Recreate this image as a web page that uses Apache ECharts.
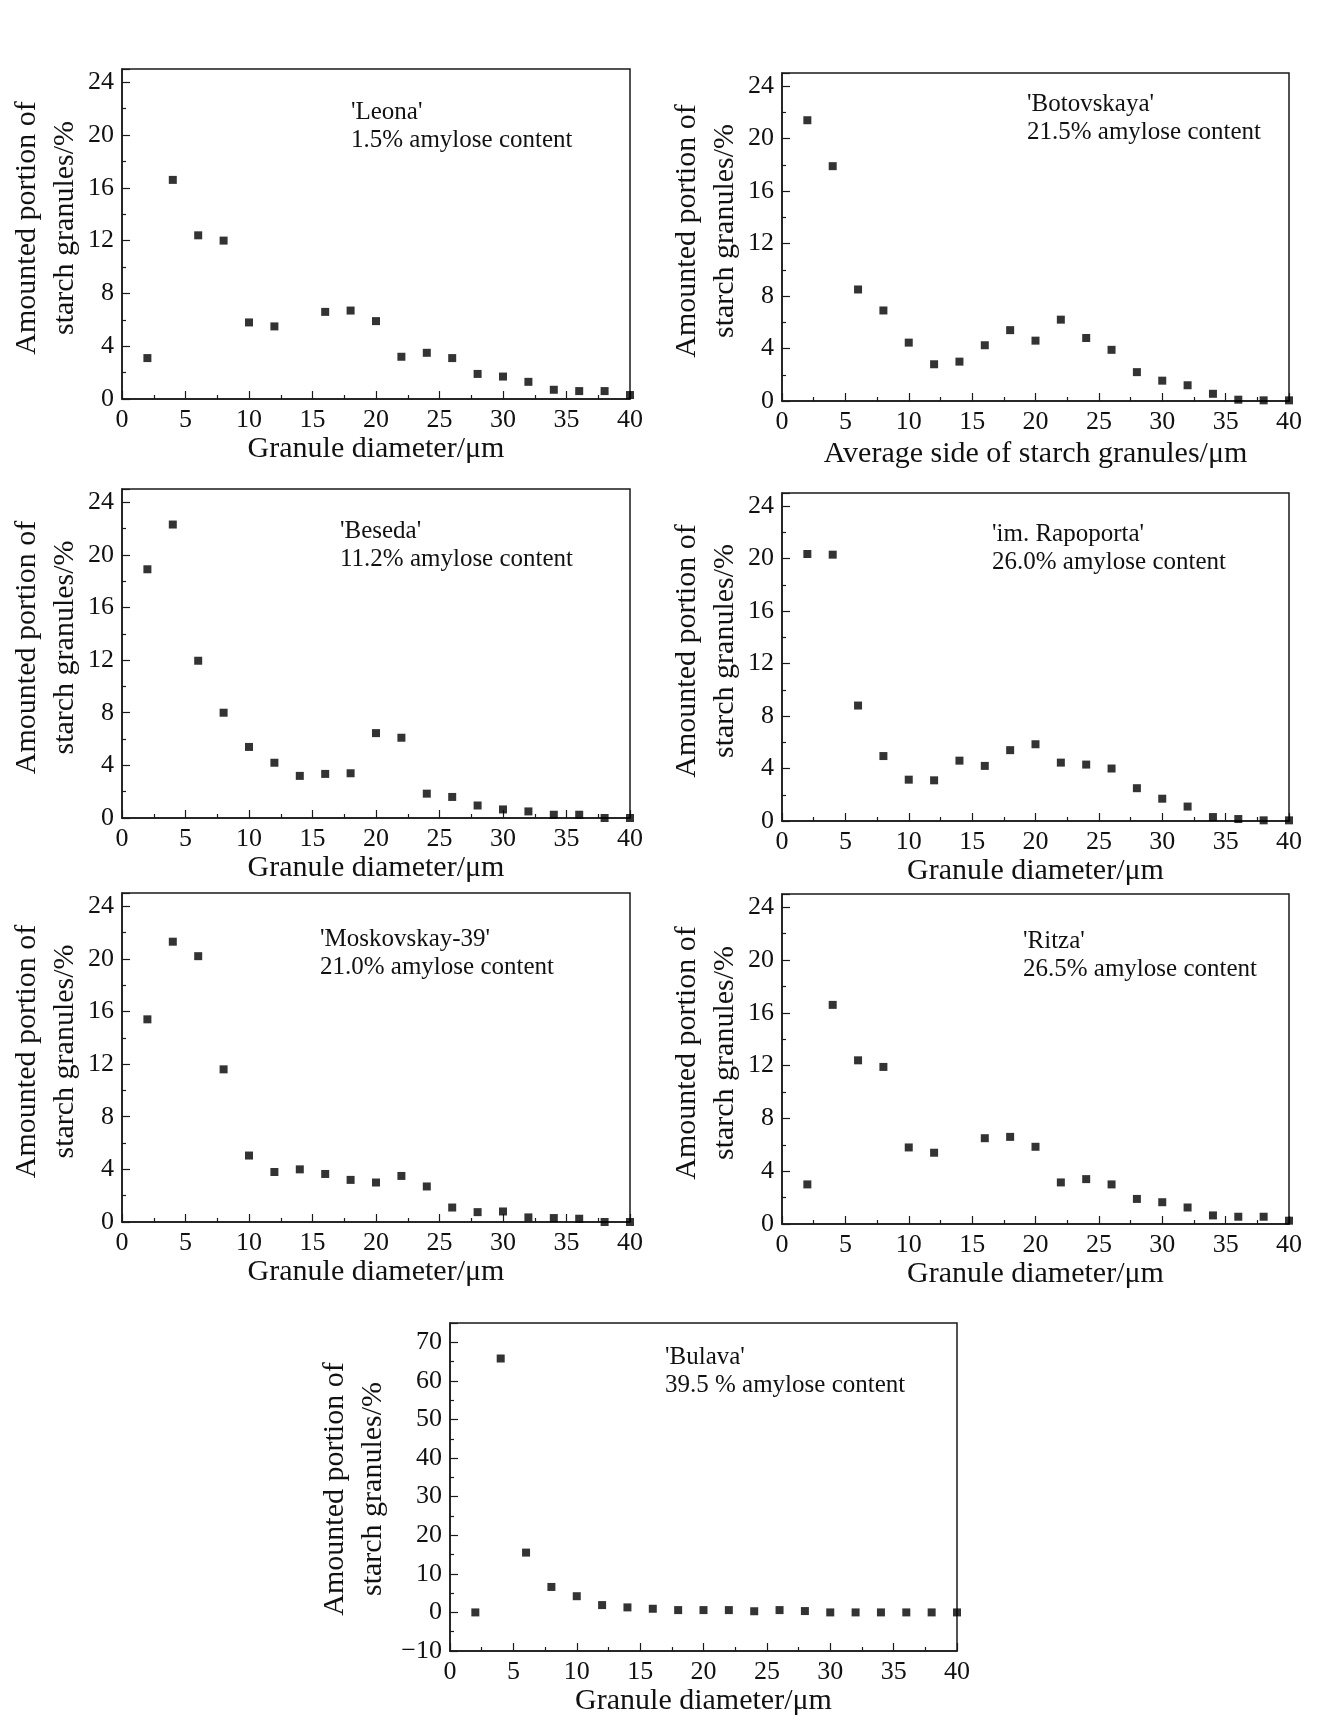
<!DOCTYPE html>
<html>
<head>
<meta charset="utf-8">
<script src="https://cdn.jsdelivr.net/npm/echarts@6/dist/echarts.min.js"></script>
<style>
  html, body { margin: 0; padding: 0; background: #fff; }
  #chart { width: 1328px; height: 1720px; }
</style>
</head>
<body>
<div id="chart"></div>
<script>
// granule size classes (µm)
var diameters = [2, 4, 6, 8, 10, 12, 14, 16, 18, 20, 22, 24, 26, 28, 30, 32, 34, 36, 38, 40];

// amounted portion of starch granules, % (null = no point)
var leona      = [3.1, 16.6, 12.4, 12.0, 5.8, 5.5, null, 6.6, 6.7, 5.9, 3.2, 3.5, 3.1, 1.9, 1.7, 1.3, 0.7, 0.6, 0.6, 0.3];
var botovskaya = [21.4, 17.9, 8.5, 6.9, 4.45, 2.8, 3.0, 4.25, 5.4, 4.6, 6.2, 4.8, 3.9, 2.2, 1.55, 1.2, 0.55, 0.1, 0.05, 0.05];
var beseda     = [18.9, 22.3, 11.95, 8.0, 5.4, 4.2, 3.2, 3.35, 3.4, 6.45, 6.1, 1.85, 1.6, 0.95, 0.65, 0.5, 0.25, 0.25, 0, 0];
var rapoporta  = [20.35, 20.3, 8.8, 4.95, 3.15, 3.1, 4.6, 4.2, 5.4, 5.85, 4.45, 4.3, 4.0, 2.5, 1.7, 1.1, 0.3, 0.15, 0.05, 0.05];
var moskovskay = [15.4, 21.3, 20.2, 11.6, 5.05, 3.8, 4.0, 3.65, 3.2, 3.0, 3.5, 2.7, 1.1, 0.75, 0.8, 0.35, 0.3, 0.25, 0, 0];
var ritza      = [3.0, 16.6, 12.4, 11.9, 5.8, 5.4, null, 6.5, 6.6, 5.85, 3.15, 3.4, 3.0, 1.9, 1.65, 1.25, 0.65, 0.55, 0.55, 0.25];
var bulava     = [0, 65.8, 15.5, 6.6, 4.2, 1.9, 1.3, 0.95, 0.6, 0.6, 0.6, 0.3, 0.6, 0.35, 0, 0, 0, 0, 0, 0];

var cultivars = ["'Leona'", "'Botovskaya'", "'Beseda'", "'im. Rapoporta'", "'Moskovskay-39'", "'Ritza'", "'Bulava'"];
var amyloseLabels = ['1.5% amylose content', '21.5% amylose content', '11.2% amylose content',
  '26.0% amylose content', '21.0% amylose content', '26.5% amylose content', '39.5 % amylose content'];
var xTitles = ['Granule diameter/μm', 'Average side of starch granules/μm', 'Granule diameter/μm',
  'Granule diameter/μm', 'Granule diameter/μm', 'Granule diameter/μm', 'Granule diameter/μm'];
var yTitle = 'Amounted portion of\nstarch granules/%';

var allSeries = [leona, botovskaya, beseda, rapoporta, moskovskay, ritza, bulava];

// layout of the seven panels
var boxes = [
  { left: 122, top: 69,   width: 508, height: 330 },
  { left: 782, top: 73,   width: 507, height: 328 },
  { left: 122, top: 489,  width: 508, height: 329 },
  { left: 782, top: 493,  width: 507, height: 328 },
  { left: 122, top: 893,  width: 508, height: 329 },
  { left: 782, top: 894,  width: 507, height: 330 },
  { left: 450, top: 1323, width: 507, height: 328 }
];
var notePos = [[351, 98], [1027, 90], [340, 517], [992, 520], [320, 925], [1023, 927], [665, 1343]];

var font = "'Liberation Serif', 'Times New Roman', serif";
var ink = '#111';
var lineCol = '#1a1a1a';

var Ch = echarts.init(document.getElementById('chart'));

var grids = [], xAxes = [], yAxes = [], series = [], graphics = [];

boxes.forEach(function (b, i) {
  var isBulava = i === 6;
  grids.push({
    left: b.left, top: b.top, width: b.width, height: b.height,
    show: true, borderColor: lineCol, borderWidth: 1.5, backgroundColor: 'transparent'
  });
  xAxes.push({
    type: 'value', gridIndex: i, min: 0, max: 40, interval: 5,
    name: xTitles[i], nameLocation: 'middle', nameGap: i === 1 ? 38 : 35,
    nameTextStyle: { fontFamily: font, fontSize: 30, color: ink },
    axisLine: { onZero: false, lineStyle: { color: lineCol, width: 1.5 } },
    axisTick: { inside: true, length: 8, lineStyle: { color: lineCol, width: 1.2 } },
    minorTick: { show: true, splitNumber: 2, length: 4, lineStyle: { color: lineCol, width: 1.2 } },
    axisLabel: { fontFamily: font, fontSize: 26, color: ink, margin: 8 },
    splitLine: { show: false }
  });
  yAxes.push({
    type: 'value', gridIndex: i,
    min: isBulava ? -10 : 0, max: isBulava ? 75 : 25, interval: isBulava ? 10 : 4,
    name: yTitle, nameLocation: 'middle', nameRotate: 90, nameGap: isBulava ? 58 : 38,
    nameTextStyle: {
      fontFamily: font, fontSize: 30, color: ink, lineHeight: 38,
      padding: isBulava ? [0, 4, 0, 0] : [0, 0, 0, 12]
    },
    axisLine: { show: true, onZero: false, lineStyle: { color: lineCol, width: 1.5 } },
    axisTick: { inside: true, length: 8, lineStyle: { color: lineCol, width: 1.2 } },
    minorTick: { show: true, splitNumber: 2, length: 4, lineStyle: { color: lineCol, width: 1.2 } },
    axisLabel: {
      fontFamily: font, fontSize: 26, color: ink, margin: 8,
      formatter: function (v) {
        var step = isBulava ? 10 : 4;
        if (v % step !== 0) return '';
        return v < 0 ? '\u2212' + Math.abs(v) : String(v);
      }
    },
    splitLine: { show: false }
  });
  var pts = [];
  allSeries[i].forEach(function (v, k) {
    if (v !== null) pts.push([diameters[k], v]);
  });
  series.push({
    type: 'scatter', xAxisIndex: i, yAxisIndex: i, data: pts,
    symbol: 'rect', symbolSize: 8, clip: false,
    itemStyle: { color: '#000' }
  });
  graphics.push({
    type: 'text', left: notePos[i][0], top: notePos[i][1],
    style: {
      text: cultivars[i] + '\n' + amyloseLabels[i],
      font: '25px ' + font, fill: ink, lineHeight: 28
    }
  });
});

var option = {
  backgroundColor: '#fff',
  animation: false,
  grid: grids,
  xAxis: xAxes,
  yAxis: yAxes,
  series: series,
  graphic: graphics
};

Ch.setOption(option);
</script>
</body>
</html>
